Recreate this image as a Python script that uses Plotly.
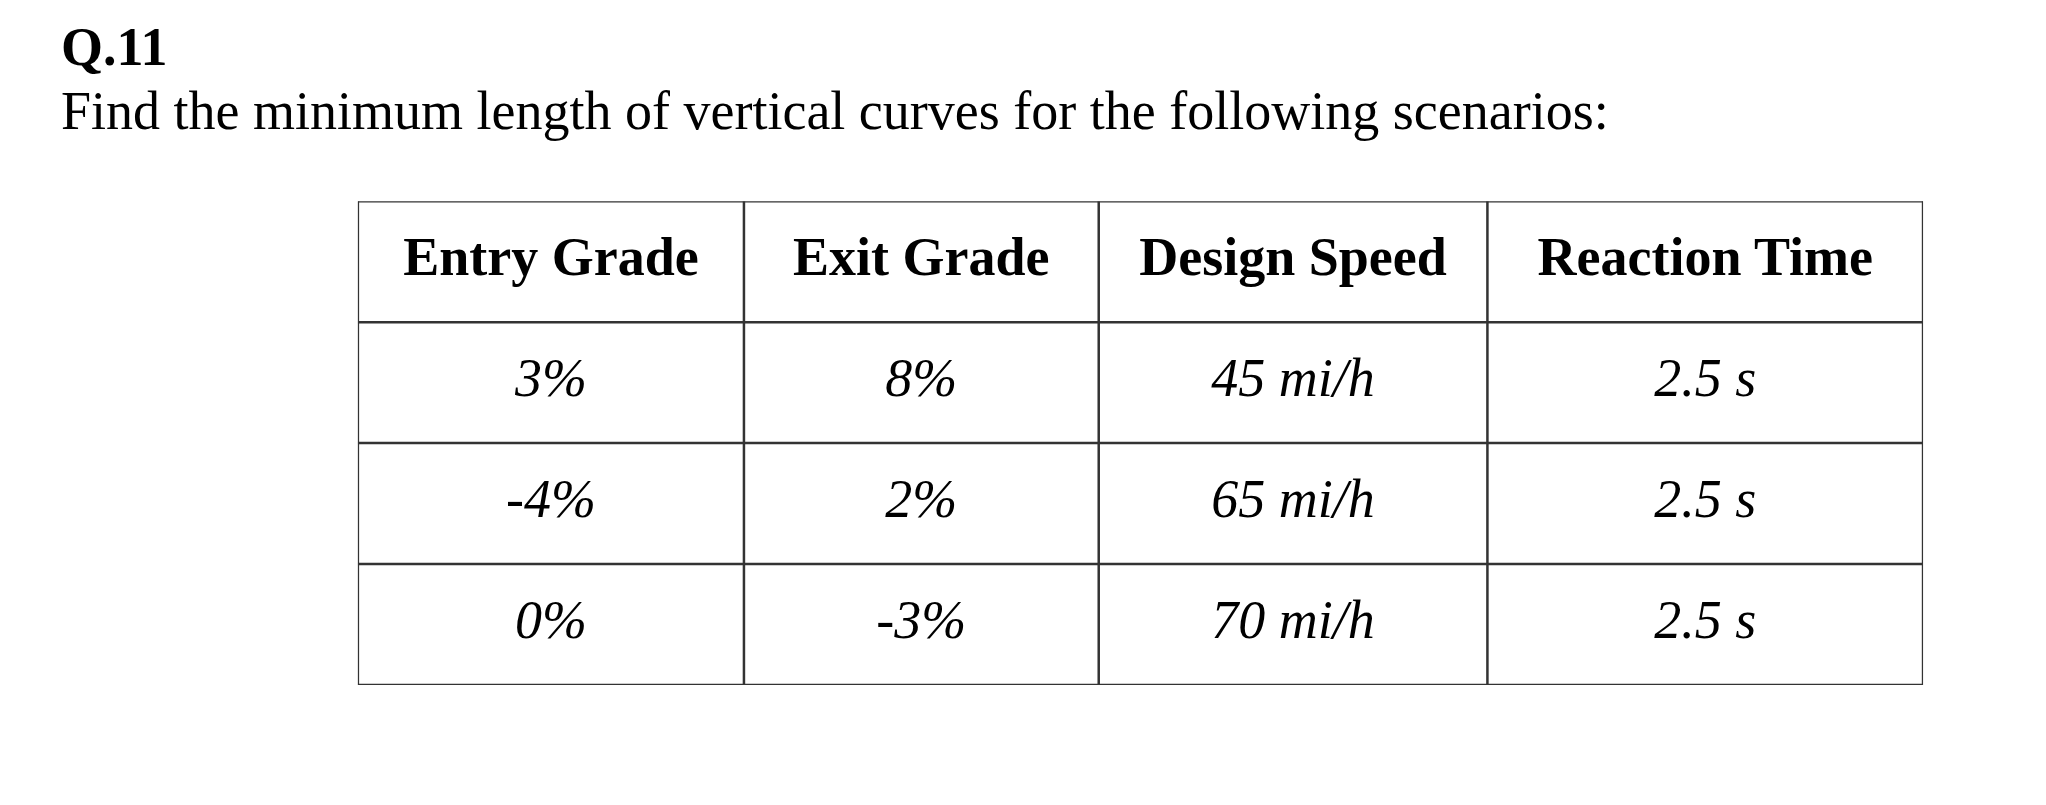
import plotly.graph_objects as go
import numpy as np

headers = ["Entry Grade", "Exit Grade", "Design Speed", "Reaction Time"]
entry_grade = ["3%", "-4%", "0%"]
exit_grade = ["8%", "2%", "-3%"]
design_speed = ["45 mi/h", "65 mi/h", "70 mi/h"]
reaction_time = ["2.5 s", "2.5 s", "2.5 s"]

title_q = "Q.11"
title_text = "Find the minimum length of vertical curves for the following scenarios:"

FONT = "Liberation Serif, Times New Roman, serif"
col_widths = [296, 272, 298, 334]
edges = np.concatenate([[0], np.cumsum(col_widths)])
centers = (edges[:-1] + edges[1:]) / 2
columns = [entry_grade, exit_grade, design_speed, reaction_time]
nrows = len(entry_grade) + 1

fig = go.Figure()
fig.add_trace(go.Scatter(x=centers, y=[0.5] * 4, mode="text",
                         text=[f"<b>{h}</b>" for h in headers],
                         textfont=dict(family=FONT, size=54, color="black"),
                         hoverinfo="skip", showlegend=False))
for ci, col in enumerate(columns):
    fig.add_trace(go.Scatter(x=[centers[ci]] * len(col), y=[r + 1.5 for r in range(len(col))],
                             mode="text", text=[f"<i>{v}</i>" for v in col],
                             textfont=dict(family=FONT, size=54, color="black"),
                             hoverinfo="skip", showlegend=False))
line = dict(color="#333", width=2.5)
for e in edges:
    fig.add_shape(type="line", x0=e, x1=e, y0=0, y1=nrows, xref="x", yref="y", line=line)
for r in range(nrows + 1):
    fig.add_shape(type="line", x0=0, x1=edges[-1], y0=r, y1=r, xref="x", yref="y", line=line)

fig.add_annotation(text=f"<b>{title_q}</b>", x=0.025, y=0.951, xref="paper", yref="paper",
                   xanchor="left", yanchor="middle", showarrow=False,
                   font=dict(family=FONT, size=54, color="black"))
fig.add_annotation(text=title_text, x=0.025, y=0.872, xref="paper", yref="paper",
                   xanchor="left", yanchor="middle", showarrow=False,
                   font=dict(family=FONT, size=54, color="black"))
fig.update_xaxes(range=[0, edges[-1]], domain=[0.171, 0.936], visible=False, fixedrange=True)
fig.update_yaxes(range=[nrows, 0], domain=[0.159, 0.760], visible=False, fixedrange=True)
fig.update_layout(width=2046, height=805, margin=dict(l=0, r=0, t=0, b=0),
                  paper_bgcolor="white", plot_bgcolor="white")
fig.write_html("out.html")
